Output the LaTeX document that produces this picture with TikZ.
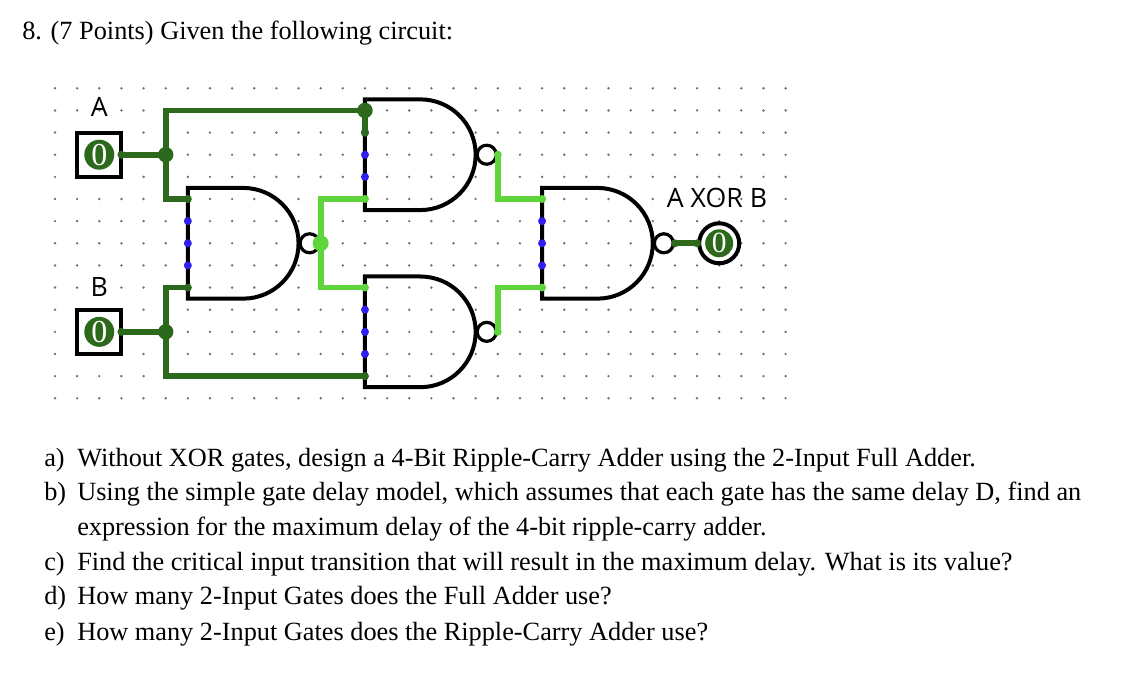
\documentclass[tikz,border=0pt]{standalone}
\usepackage{fontspec}
\setmainfont{Liberation Serif}
\newfontfamily\labelfont{Open Sans}
\definecolor{wirelo}{HTML}{2C691C}
\definecolor{wirehi}{HTML}{5FD53C}
\definecolor{pinblue}{HTML}{2F20F0}
\definecolor{griddot}{HTML}{707070}
\tikzset{
  wire/.style={line width=4.4pt,line join=miter,line cap=butt},
  lo/.style={wire,draw=wirelo},
  hi/.style={wire,draw=wirehi},
  outline/.style={draw=black,line width=3pt},
  thin outline/.style={draw=black,line width=2.4pt},
  body/.style={anchor=base west,inner sep=0pt,font=\fontsize{19.72pt}{23pt}\selectfont},
  tag/.style={inner sep=0pt,font=\labelfont\fontsize{20pt}{24pt}\selectfont},
  zero/.style={circle,fill=wirelo,text=white,inner sep=0pt,minimum size=22.5pt,font=\fontsize{24pt}{26pt}\selectfont},
  pics/nandgate/.style={code={
    \draw[outline] (0,-2.5) -- (2.5,-2.5) arc[start angle=-90,end angle=90,radius=2.5] -- (0,2.5) -- cycle;
    \draw[thin outline] (5.5,0) circle (0.43);
    \foreach \r in {-1,0,1} \fill[pinblue] (0,\r) circle (3pt);
    \coordinate (-i1) at (0,-2);
    \coordinate (-i2) at (0,-1);
    \coordinate (-i5) at (0,2);
    \coordinate (-o) at (6,0);
  }}
}
\begin{document}
\begin{tikzpicture}[x=0.75pt,y=-0.75pt]
\useasboundingbox (0,0) rectangle (1142,688);
\fill[white] (0,0) rectangle (1142,688);

\node[body] (title) at (22,40) {8. (7 Points) Given the following circuit:};

% circuit on the 22.14px grid
\begin{scope}[shift={(55,88.3)},x=16.605pt,y=-16.605pt]
\foreach \c in {0,...,33}
  \foreach \r in {0,...,14}
    \fill[griddot] (\c,\r) circle (1pt);

\pic (g1) at (6,7) {nandgate};
\pic (g2) at (14,3) {nandgate};
\pic (g3) at (14,11) {nandgate};
\pic (g4) at (22,7) {nandgate};

% inputs
\draw[outline,fill=white] (1,2) rectangle (3,4);
\draw[outline,fill=white] (1,10) rectangle (3,12);
\node[zero] (inA) at (2,3) {0};
\node[zero] (inB) at (2,11) {0};
\coordinate (pinA) at (3,3);
\coordinate (pinB) at (3,11);
\coordinate (jA) at (5,3);
\coordinate (jB) at (5,11);

% output
\node[circle,draw=black,line width=3pt,fill=white,minimum size=30pt,inner sep=0pt] (outring) at (30,7) {};
\node[zero,minimum size=21pt,font=\fontsize{22pt}{24pt}\selectfont] (out) at (30,7) {0};
\coordinate (pinOut) at (29,7);

\node[tag] (lblA) at (2,0.82) {A};
\node[tag] (lblB) at (2,8.97) {B};
\node[tag] (lblX) at (29.9,4.95) {A XOR B};

% wires
\draw[lo] (pinA) -- (jA);
\draw[lo] (jA) |- (g2-i1);
\draw[lo] (jA) |- (g1-i1);
\draw[lo] (g2-i1) -- (g2-i2);
\draw[lo] (pinB) -- (jB);
\draw[lo] (jB) |- (g1-i5);
\draw[lo] (jB) |- (g3-i5);
\draw[lo] (g4-o) -- (pinOut);
\draw[hi] (g3-i1) -| (g1-o) |- (g2-i5);
\draw[hi] (g2-o) |- (g4-i1);
\draw[hi] (g3-o) |- (g4-i5);

% wire ends and junctions
\foreach \p in {jA,jB,g2-i1} \fill[wirelo] (\p) circle (5.8pt);
\fill[wirehi] (g1-o) circle (6pt);
\foreach \p in {pinA,pinB,g1-i1,g1-i5,g2-i2,g3-i5,g4-o,pinOut} \fill[wirelo] (\p) circle (3pt);
\foreach \p in {g2-i5,g3-i1,g2-o,g3-o,g4-i1,g4-i5} \fill[wirehi] (\p) circle (3pt);
\end{scope}

\node[body] (qa) at (44,466) {a)};
\node[body] (ta) at (77,466) {Without XOR gates, design a 4-Bit Ripple-Carry Adder using the 2-Input Full Adder.};
\node[body] (qb) at (44,500) {b)};
\node[body] (tb) at (77,500) {Using the simple gate delay model, which assumes that each gate has the same delay D, find an};
\node[body] (tb2) at (77,535) {expression for the maximum delay of the 4-bit ripple-carry adder.};
\node[body] (qc) at (44,570) {c)};
\node[body] (tc) at (77,570) {Find the critical input transition that will result in the maximum delay. What is its value?};
\node[body] (qd) at (44,604) {d)};
\node[body] (td) at (77,604) {How many 2-Input Gates does the Full Adder use?};
\node[body] (qe) at (44,640) {e)};
\node[body] (te) at (77,640) {How many 2-Input Gates does the Ripple-Carry Adder use?};
\end{tikzpicture}
\end{document}
